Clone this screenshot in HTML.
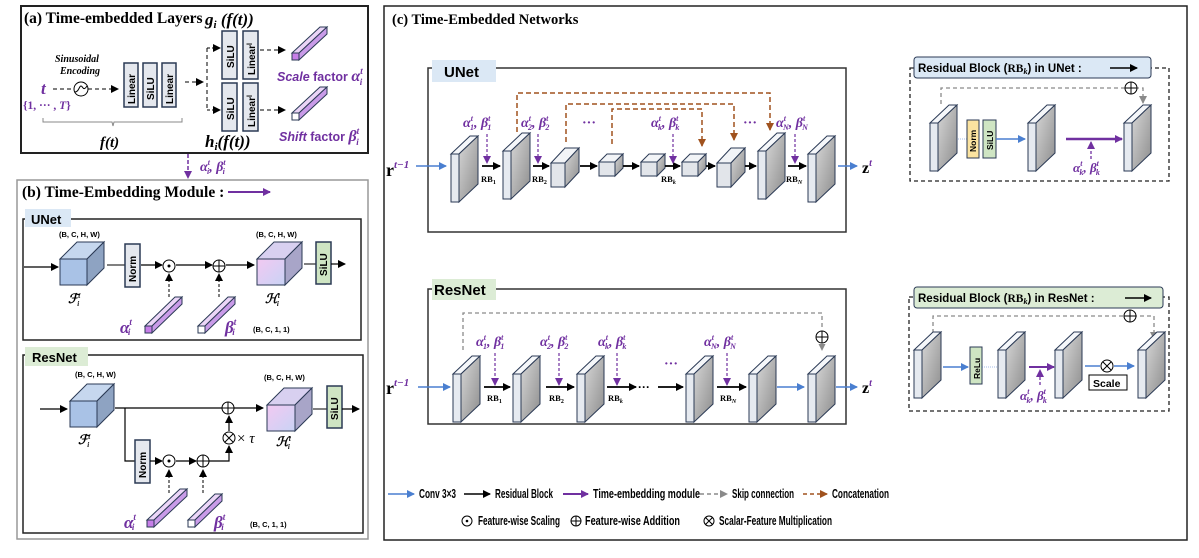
<!DOCTYPE html>
<html><head><meta charset="utf-8"><style>
html,body{margin:0;padding:0;background:#fff;}
svg{display:block;}
.s{font-family:"Liberation Sans",sans-serif;font-weight:bold;}
.r{font-family:"Liberation Serif",serif;font-weight:bold;}
.m{font-family:"Liberation Serif",serif;font-weight:bold;font-style:italic;fill:#7030a0;}
</style></head><body>
<svg width="1199" height="558" viewBox="0 0 1199 558" xmlns="http://www.w3.org/2000/svg">
<defs>
<marker id="ak" markerWidth="8" markerHeight="8" refX="7" refY="4" orient="auto" markerUnits="userSpaceOnUse"><path d="M0,0 L8,4 L0,8 z" fill="#000"/></marker>
<marker id="ab" markerWidth="8" markerHeight="8" refX="7" refY="4" orient="auto" markerUnits="userSpaceOnUse"><path d="M0,0 L8,4 L0,8 z" fill="#4a7fd0"/></marker>
<marker id="ap" markerWidth="8" markerHeight="8" refX="7" refY="4" orient="auto" markerUnits="userSpaceOnUse"><path d="M0,0 L8,4 L0,8 z" fill="#7030a0"/></marker>
<marker id="ag" markerWidth="8" markerHeight="8" refX="7" refY="4" orient="auto" markerUnits="userSpaceOnUse"><path d="M0,0 L8,4 L0,8 z" fill="#8a8a8a"/></marker>
<marker id="ao" markerWidth="8" markerHeight="8" refX="7" refY="4" orient="auto" markerUnits="userSpaceOnUse"><path d="M0,0 L8,4 L0,8 z" fill="#a0521e"/></marker>
<linearGradient id="gs" x1="0" y1="0" x2="1" y2="1"><stop offset="0" stop-color="#d8d8d8"/><stop offset="1" stop-color="#8c8c8c"/></linearGradient>
<linearGradient id="gh" x1="0" y1="0" x2="1" y2="1"><stop offset="0" stop-color="#f2c9f2"/><stop offset="1" stop-color="#c9d3f5"/></linearGradient>
<g id="tp"><rect x="0" y="0" width="8" height="48" fill="#e6eaf0" stroke="#2b3a55" stroke-width="1"/><polygon points="0,0 19,-18 27,-18 8,0" fill="#f5f7fa" stroke="#2b3a55" stroke-width="1"/><polygon points="8,0 27,-18 27,30 8,48" fill="url(#gs)" stroke="#2b3a55" stroke-width="1"/></g>
<g id="mc"><rect x="0" y="0" width="14" height="24" fill="#e2e5ea" stroke="#2b3a55"/><polygon points="0,0 14,-15 28,-15 14,0" fill="#f2f4f7" stroke="#2b3a55"/><polygon points="14,0 28,-15 28,9 14,24" fill="url(#gs)" stroke="#2b3a55"/></g>
<g id="sc"><rect x="0" y="0" width="16" height="14" fill="#e2e5ea" stroke="#2b3a55"/><polygon points="0,0 8,-8 24,-8 16,0" fill="#f2f4f7" stroke="#2b3a55"/><polygon points="16,0 24,-8 24,6 16,14" fill="url(#gs)" stroke="#2b3a55"/></g>
</defs>

<!-- ===== (a) ===== -->
<rect x="21" y="6" width="347" height="147" fill="none" stroke="#222" stroke-width="2"/>
<text x="24" y="23" class="r" font-size="15.5">(a) Time-embedded Layers</text>
<text x="205" y="25" class="m" style="fill:#000" font-size="17">g<tspan font-size="11" dy="3">i</tspan><tspan dy="-3"> (f(t))</tspan></text>
<text x="55" y="62" class="r" font-style="italic" font-size="10">Sinusoidal</text>
<text x="60" y="74" class="r" font-style="italic" font-size="10">Encoding</text>
<text x="41" y="94" class="m" font-size="17">t</text>
<text x="23" y="109" class="m" font-size="11.5" style="font-style:normal">{1, ··· , <tspan font-style="italic">T</tspan>}</text>
<line x1="53" y1="89" x2="73" y2="89" stroke="#000" stroke-dasharray="4,3"/>
<circle cx="81" cy="89" r="7" fill="#fff" stroke="#000"/>
<path d="M75,92 C79,92 79,86 81,86 C83,86 83,92 87,86" fill="none" stroke="#000"/>
<line x1="88" y1="89" x2="118" y2="89" stroke="#000" stroke-dasharray="4,3" marker-end="url(#ak)"/>
<rect x="124" y="63" width="14" height="44" fill="#e5e8ee" stroke="#2b3a55" stroke-width="1.5"/>
<rect x="143" y="63" width="14" height="44" fill="#e5e8ee" stroke="#2b3a55" stroke-width="1.5"/>
<rect x="162" y="63" width="14" height="44" fill="#e5e8ee" stroke="#2b3a55" stroke-width="1.5"/>
<text transform="translate(135,104) rotate(-90)" class="s" font-size="10">Linear</text>
<text transform="translate(154,100) rotate(-90)" class="s" font-size="10">SiLU</text>
<text transform="translate(173,104) rotate(-90)" class="s" font-size="10">Linear</text>
<path d="M43,118 L43,122 L112,122 L113,126 L114,122 L182,122 L182,118" fill="none" stroke="#888"/>
<text x="100" y="147" class="r" font-style="italic" font-size="15">f(t)</text>
<line x1="185" y1="82" x2="203" y2="82" stroke="#000" stroke-dasharray="4,3" marker-end="url(#ak)"/>
<line x1="207" y1="48" x2="207" y2="110" stroke="#000" stroke-dasharray="4,3"/>
<line x1="207" y1="48" x2="220" y2="48" stroke="#000" stroke-dasharray="3,2" marker-end="url(#ak)"/>
<line x1="207" y1="110" x2="220" y2="110" stroke="#000" stroke-dasharray="3,2" marker-end="url(#ak)"/>
<rect x="222" y="31" width="15" height="48" fill="#e5e8ee" stroke="#2b3a55" stroke-width="1.5"/>
<rect x="243" y="31" width="15" height="48" fill="#e5e8ee" stroke="#2b3a55" stroke-width="1.5"/>
<rect x="222" y="83" width="15" height="48" fill="#e5e8ee" stroke="#2b3a55" stroke-width="1.5"/>
<rect x="243" y="83" width="15" height="48" fill="#e5e8ee" stroke="#2b3a55" stroke-width="1.5"/>
<text transform="translate(234,68) rotate(-90)" class="s" font-size="10">SiLU</text>
<text transform="translate(255,75) rotate(-90)" class="s" font-size="10">Linear<tspan font-size="7" dy="-3">l</tspan></text>
<text transform="translate(234,120) rotate(-90)" class="s" font-size="10">SiLU</text>
<text transform="translate(255,127) rotate(-90)" class="s" font-size="10">Linear<tspan font-size="7" dy="-3">l</tspan></text>
<line x1="260" y1="50" x2="285" y2="50" stroke="#000" stroke-dasharray="4,3" marker-end="url(#ak)"/>
<line x1="260" y1="110" x2="285" y2="110" stroke="#000" stroke-dasharray="4,3" marker-end="url(#ak)"/>
<polygon points="292,53 320,27 327,27 299,53" fill="#ead4f7" stroke="#2b3a55"/>
<polygon points="299,53 327,27 327,34 299,60" fill="#c99be8" stroke="#2b3a55"/>
<rect x="292" y="53" width="7" height="7" fill="#c77ee8" stroke="#2b3a55"/>
<polygon points="292,113 320,87 327,87 299,113" fill="#ead4f7" stroke="#2b3a55"/>
<polygon points="299,113 327,87 327,94 299,120" fill="#c99be8" stroke="#2b3a55"/>
<rect x="292" y="113" width="7" height="7" fill="#fff" stroke="#2b3a55"/>
<text x="277" y="81" class="s" font-size="12.5" fill="#7030a0"><tspan font-style="italic">Scale</tspan> factor <tspan class="m" font-size="16">α</tspan><tspan class="m" font-size="9" dy="-7">t</tspan><tspan class="m" font-size="9" dx="-3" dy="11">i</tspan></text>
<text x="279" y="141" class="s" font-size="12.5" fill="#7030a0"><tspan font-style="italic">Shift</tspan> factor <tspan class="m" font-size="16">β</tspan><tspan class="m" font-size="9" dy="-7">t</tspan><tspan class="m" font-size="9" dx="-3" dy="11">i</tspan></text>
<text x="205" y="147" class="m" style="fill:#000" font-size="17">h<tspan font-size="11" dy="3">i</tspan><tspan dy="-3">(f(t))</tspan></text>
<line x1="188" y1="154" x2="188" y2="178" stroke="#7030a0" stroke-width="1.5" stroke-dasharray="4,2" marker-end="url(#ap)"/>
<text x="200" y="171" class="m" font-size="14">α<tspan font-size="8" dy="-6">t</tspan><tspan font-size="8" dx="-3" dy="9">i</tspan><tspan dy="-3">, β</tspan><tspan font-size="8" dy="-6">t</tspan><tspan font-size="8" dx="-3" dy="9">i</tspan></text>

<!-- ===== (b) ===== -->
<rect x="17" y="180" width="351" height="359" fill="none" stroke="#999" stroke-width="1.5"/>
<text x="22" y="197" class="r" font-size="15.5">(b) Time-Embedding Module :</text>
<line x1="228" y1="192" x2="270" y2="192" stroke="#7030a0" stroke-width="2" marker-end="url(#ap)"/>
<rect x="23" y="219" width="338" height="121" fill="none" stroke="#222" stroke-width="1.5"/>
<rect x="25" y="209" width="46" height="18" fill="#dbe8f5"/>
<text x="31" y="224" class="s" font-size="13">UNet</text>
<text x="59" y="237" class="s" font-size="7.5">(B, C, H, W)</text>
<text x="256" y="237" class="s" font-size="7.5">(B, C, H, W)</text>
<line x1="24" y1="267" x2="58" y2="267" stroke="#000" stroke-width="1.2" marker-end="url(#ak)"/>
<polygon points="60,259 77,242 104,242 87,259" fill="#c6d7ee" stroke="#2b3a55"/>
<polygon points="87,259 104,242 104,268 87,285" fill="#8ea3c2" stroke="#2b3a55"/>
<rect x="60" y="259" width="27" height="26" fill="#a9c2e6" stroke="#2b3a55"/>
<line x1="107" y1="265" x2="125" y2="265" stroke="#000"/>
<rect x="125" y="244" width="15" height="43" fill="#e5e8ee" stroke="#2b3a55" stroke-width="1.5"/>
<text transform="translate(136,282) rotate(-90)" class="s" font-size="10">Norm</text>
<line x1="141" y1="265" x2="162" y2="265" stroke="#000" stroke-width="1.2" marker-end="url(#ak)"/>
<circle cx="169" cy="266" r="6" fill="none" stroke="#000"/><circle cx="169" cy="266" r="1.5"/>
<line x1="176" y1="265" x2="212" y2="265" stroke="#000" stroke-width="1.2" marker-end="url(#ak)"/>
<circle cx="219" cy="266" r="6" fill="none" stroke="#000"/><path d="M213,266 h12 M219,260 v12" stroke="#000"/>
<line x1="226" y1="265" x2="254" y2="265" stroke="#000" stroke-width="1.2" marker-end="url(#ak)"/>
<line x1="169" y1="297" x2="169" y2="274" stroke="#000" stroke-dasharray="3,2" marker-end="url(#ak)"/>
<line x1="219" y1="297" x2="219" y2="274" stroke="#000" stroke-dasharray="3,2" marker-end="url(#ak)"/>
<polygon points="257,259 274,242 302,242 285,259" fill="#d8d0f0" stroke="#2b3a55"/>
<polygon points="285,259 302,242 302,268 285,285" fill="#a8a5c8" stroke="#2b3a55"/>
<rect x="257" y="259" width="28" height="26" fill="url(#gh)" stroke="#2b3a55"/>
<line x1="304" y1="264" x2="316" y2="264" stroke="#000"/>
<rect x="316" y="242" width="15" height="42" fill="#cfe5c3" stroke="#2b3a55" stroke-width="1.5"/>
<text transform="translate(327,276) rotate(-90)" class="s" font-size="10">SiLU</text>
<line x1="331" y1="264" x2="345" y2="264" stroke="#000" stroke-width="1.2" marker-end="url(#ak)"/>
<text x="68" y="303" class="m" style="fill:#000" font-size="13">ℱ<tspan font-size="7" dy="-5">t</tspan><tspan font-size="7" dx="-3" dy="8">i</tspan></text>
<text x="265" y="303" class="m" style="fill:#000" font-size="13">ℋ<tspan font-size="7" dy="-5">t</tspan><tspan font-size="7" dx="-3" dy="8">i</tspan></text>
<polygon points="145,326 175,297 182,297 152,326" fill="#ecd6f8" stroke="#2b3a55"/>
<polygon points="152,326 182,297 182,304 152,333" fill="#c99be8" stroke="#2b3a55"/>
<rect x="145" y="326" width="7" height="7" fill="#c77ee8" stroke="#2b3a55"/>
<polygon points="198,326 228,297 235,297 205,326" fill="#ecd6f8" stroke="#2b3a55"/>
<polygon points="205,326 235,297 235,304 205,333" fill="#c99be8" stroke="#2b3a55"/>
<rect x="198" y="326" width="7" height="7" fill="#fff" stroke="#2b3a55"/>
<text x="120" y="333" class="m" font-size="17">α<tspan font-size="9" dy="-8">t</tspan><tspan font-size="9" dx="-4" dy="10">i</tspan></text>
<text x="225" y="333" class="m" font-size="17">β<tspan font-size="9" dy="-8">t</tspan><tspan font-size="9" dx="-4" dy="10">i</tspan></text>
<text x="253" y="332" class="s" font-size="7.5">(B, C, 1, 1)</text>
<rect x="23" y="355" width="340" height="178" fill="none" stroke="#222" stroke-width="1.5"/>
<rect x="25" y="347" width="63" height="19" fill="#dcecd5"/>
<text x="32" y="362" class="s" font-size="13">ResNet</text>
<text x="75" y="377" class="s" font-size="7.5">(B, C, H, W)</text>
<text x="264" y="380" class="s" font-size="7.5">(B, C, H, W)</text>
<line x1="40" y1="409" x2="67" y2="409" stroke="#000" stroke-width="1.2" marker-end="url(#ak)"/>
<polygon points="70,401 87,384 114,384 97,401" fill="#c6d7ee" stroke="#2b3a55"/>
<polygon points="97,401 114,384 114,410 97,427" fill="#8ea3c2" stroke="#2b3a55"/>
<rect x="70" y="401" width="27" height="26" fill="#a9c2e6" stroke="#2b3a55"/>
<line x1="115" y1="408" x2="222" y2="408" stroke="#000" stroke-width="1.2"/>
<line x1="234" y1="408" x2="263" y2="408" stroke="#000" stroke-width="1.2" marker-end="url(#ak)"/>
<circle cx="228" cy="408" r="6" fill="none" stroke="#000"/><path d="M222,408 h12 M228,402 v12" stroke="#000"/>
<path d="M125,408 V461 H135" fill="none" stroke="#000" stroke-width="1.2"/>
<rect x="135" y="440" width="15" height="43" fill="#e5e8ee" stroke="#2b3a55" stroke-width="1.5"/>
<text transform="translate(146,478) rotate(-90)" class="s" font-size="10">Norm</text>
<line x1="150" y1="461" x2="162" y2="461" stroke="#000" stroke-width="1.2" marker-end="url(#ak)"/>
<circle cx="169" cy="461" r="6" fill="none" stroke="#000"/><circle cx="169" cy="461" r="1.5"/>
<line x1="176" y1="461" x2="196" y2="461" stroke="#000" stroke-width="1.2" marker-end="url(#ak)"/>
<circle cx="203" cy="461" r="6" fill="none" stroke="#000"/><path d="M197,461 h12 M203,455 v12" stroke="#000"/>
<path d="M209,461 H229 V446" fill="none" stroke="#000" stroke-width="1.2" marker-end="url(#ak)"/>
<circle cx="229" cy="438" r="6" fill="none" stroke="#000"/><path d="M225,434 l8,8 M233,434 l-8,8" stroke="#000"/>
<line x1="229" y1="431" x2="229" y2="416" stroke="#000" stroke-width="1.2" marker-end="url(#ak)"/>
<text x="237" y="443" font-family="Liberation Serif,serif" font-size="15">× <tspan font-style="italic">τ</tspan></text>
<line x1="169" y1="493" x2="169" y2="470" stroke="#000" stroke-dasharray="3,2" marker-end="url(#ak)"/>
<line x1="203" y1="493" x2="203" y2="470" stroke="#000" stroke-dasharray="3,2" marker-end="url(#ak)"/>
<polygon points="267,405 284,388 312,388 295,405" fill="#d8d0f0" stroke="#2b3a55"/>
<polygon points="295,405 312,388 312,414 295,431" fill="#a8a5c8" stroke="#2b3a55"/>
<rect x="267" y="405" width="28" height="26" fill="url(#gh)" stroke="#2b3a55"/>
<line x1="313" y1="409" x2="327" y2="409" stroke="#000"/>
<rect x="327" y="386" width="15" height="42" fill="#cfe5c3" stroke="#2b3a55" stroke-width="1.5"/>
<text transform="translate(338,420) rotate(-90)" class="s" font-size="10">SiLU</text>
<line x1="342" y1="409" x2="359" y2="409" stroke="#000" stroke-width="1.2" marker-end="url(#ak)"/>
<text x="78" y="444" class="m" style="fill:#000" font-size="13">ℱ<tspan font-size="7" dy="-5">t</tspan><tspan font-size="7" dx="-3" dy="8">i</tspan></text>
<text x="276" y="446" class="m" style="fill:#000" font-size="13">ℋ<tspan font-size="7" dy="-5">t</tspan><tspan font-size="7" dx="-3" dy="8">i</tspan></text>
<polygon points="147,520 180,489 187,489 154,520" fill="#ecd6f8" stroke="#2b3a55"/>
<polygon points="154,520 187,489 187,496 154,527" fill="#c99be8" stroke="#2b3a55"/>
<rect x="147" y="520" width="7" height="7" fill="#c77ee8" stroke="#2b3a55"/>
<polygon points="188,520 215,494 222,494 195,520" fill="#ecd6f8" stroke="#2b3a55"/>
<polygon points="195,520 222,494 222,501 195,527" fill="#c99be8" stroke="#2b3a55"/>
<rect x="188" y="520" width="7" height="7" fill="#fff" stroke="#2b3a55"/>
<text x="124" y="528" class="m" font-size="17">α<tspan font-size="9" dy="-8">t</tspan><tspan font-size="9" dx="-4" dy="10">i</tspan></text>
<text x="214" y="528" class="m" font-size="17">β<tspan font-size="9" dy="-8">t</tspan><tspan font-size="9" dx="-4" dy="10">i</tspan></text>
<text x="250" y="527" class="s" font-size="7.5">(B, C, 1, 1)</text>

<!-- ===== (c) ===== -->
<rect x="384" y="6" width="803" height="534" fill="none" stroke="#222" stroke-width="1.5"/>
<text x="392" y="24" class="r" font-size="14.5">(c) Time-Embedded Networks</text>
<rect x="428" y="68" width="418" height="164" fill="none" stroke="#333" stroke-width="1.5"/>
<rect x="432" y="60" width="64" height="22" fill="#dbe8f5"/>
<text x="444" y="77" class="s" font-size="15">UNet</text>
<text x="386" y="176" class="r" font-size="18">r<tspan class="m" font-size="11" dy="-8">t−1</tspan></text>
<line x1="416" y1="166" x2="446" y2="166" stroke="#4a7fd0" stroke-width="1.5" marker-end="url(#ab)"/>
<path d="M517,132 V93 H770 V130" fill="none" stroke="#a0521e" stroke-width="1.5" stroke-dasharray="5,3" marker-end="url(#ao)"/>
<path d="M566,142 V104 H734 V140" fill="none" stroke="#a0521e" stroke-width="1.5" stroke-dasharray="5,3" marker-end="url(#ao)"/>
<path d="M612,144 V109 H702 V146" fill="none" stroke="#a0521e" stroke-width="1.5" stroke-dasharray="5,3" marker-end="url(#ao)"/>
<use href="#tp" x="451" y="154"/>
<use href="#tp" x="503" y="151"/>
<use href="#mc" x="551" y="163"/>
<use href="#sc" x="599" y="162"/>
<use href="#sc" x="641" y="162"/>
<use href="#sc" x="682" y="162"/>
<use href="#mc" x="717" y="163"/>
<use href="#tp" x="758" y="151"/>
<use href="#tp" x="808" y="154"/>
<g stroke="#000" stroke-width="1.8">
<line x1="482" y1="166" x2="500" y2="166" marker-end="url(#ak)"/>
<line x1="533" y1="166" x2="549" y2="166" marker-end="url(#ak)"/>
<line x1="580" y1="166" x2="597" y2="166" marker-end="url(#ak)"/>
<line x1="623" y1="166" x2="639" y2="166" marker-end="url(#ak)"/>
<line x1="665" y1="166" x2="680" y2="166" marker-end="url(#ak)"/>
<line x1="706" y1="166" x2="715" y2="166" marker-end="url(#ak)"/>
<line x1="745" y1="166" x2="756" y2="166" marker-end="url(#ak)"/>
<line x1="788" y1="166" x2="806" y2="166" marker-end="url(#ak)"/>
</g>
<line x1="838" y1="166" x2="857" y2="166" stroke="#4a7fd0" stroke-width="1.5" marker-end="url(#ab)"/>
<text x="862" y="173" class="r" font-size="16">z<tspan class="m" font-size="10" dy="-7">t</tspan></text>
<g class="m" font-size="14">
<text x="463" y="127">α<tspan font-size="8" dy="-6">t</tspan><tspan font-size="8" dx="-3" dy="9">1</tspan><tspan dy="-3">, β</tspan><tspan font-size="8" dy="-6">t</tspan><tspan font-size="8" dx="-3" dy="9">1</tspan></text>
<text x="521" y="127">α<tspan font-size="8" dy="-6">t</tspan><tspan font-size="8" dx="-3" dy="9">2</tspan><tspan dy="-3">, β</tspan><tspan font-size="8" dy="-6">t</tspan><tspan font-size="8" dx="-3" dy="9">2</tspan></text>
<text x="651" y="127">α<tspan font-size="8" dy="-6">t</tspan><tspan font-size="8" dx="-3" dy="9">k</tspan><tspan dy="-3">, β</tspan><tspan font-size="8" dy="-6">t</tspan><tspan font-size="8" dx="-3" dy="9">k</tspan></text>
<text x="776" y="127">α<tspan font-size="8" dy="-6">t</tspan><tspan font-size="8" dx="-3" dy="9">N</tspan><tspan dy="-3">, β</tspan><tspan font-size="8" dy="-6">t</tspan><tspan font-size="8" dx="-3" dy="9">N</tspan></text>
<text x="582" y="127" font-style="normal">···</text>
<text x="743" y="127" font-style="normal">···</text>
</g>
<g stroke="#7030a0" stroke-width="1.2" stroke-dasharray="3,2">
<line x1="487" y1="134" x2="487" y2="163" marker-end="url(#ap)"/>
<line x1="538" y1="134" x2="538" y2="163" marker-end="url(#ap)"/>
<line x1="673" y1="134" x2="673" y2="163" marker-end="url(#ap)"/>
<line x1="795" y1="134" x2="795" y2="163" marker-end="url(#ap)"/>
</g>
<g class="r" font-size="8.5">
<text x="481" y="182">RB<tspan font-size="6" dy="2">1</tspan></text>
<text x="532" y="182">RB<tspan font-size="6" dy="2">2</tspan></text>
<text x="661" y="182">RB<tspan font-size="6" dy="2" font-style="italic">k</tspan></text>
<text x="786" y="182">RB<tspan font-size="6" dy="2" font-style="italic">N</tspan></text>
</g>
<rect x="428" y="289" width="418" height="135" fill="none" stroke="#333" stroke-width="1.5"/>
<rect x="432" y="279" width="64" height="21" fill="#dcecd5"/>
<text x="434" y="295" class="s" font-size="15">ResNet</text>
<text x="386" y="394" class="r" font-size="18">r<tspan class="m" font-size="11" dy="-8">t−1</tspan></text>
<line x1="418" y1="387" x2="450" y2="387" stroke="#4a7fd0" stroke-width="1.5" marker-end="url(#ab)"/>
<path d="M463,350 V313 H822 V350" fill="none" stroke="#8a8a8a" stroke-width="1.3" stroke-dasharray="4,3" marker-end="url(#ag)"/>
<rect x="814" y="330" width="16" height="14" fill="#fff"/>
<circle cx="822" cy="337" r="6" fill="#fff" stroke="#000"/><path d="M816,337 h12 M822,331 v12" stroke="#000"/>
<use href="#tp" x="453" y="374"/>
<use href="#tp" x="513" y="374"/>
<use href="#tp" x="577" y="374"/>
<use href="#tp" x="686" y="374"/>
<use href="#tp" x="749" y="374"/>
<use href="#tp" x="808" y="374"/>
<g stroke="#000" stroke-width="1.8">
<line x1="484" y1="387" x2="510" y2="387" marker-end="url(#ak)"/>
<line x1="546" y1="387" x2="574" y2="387" marker-end="url(#ak)"/>
<line x1="607" y1="387" x2="636" y2="387" marker-end="url(#ak)"/>
<line x1="658" y1="387" x2="683" y2="387" marker-end="url(#ak)"/>
<line x1="717" y1="387" x2="746" y2="387" marker-end="url(#ak)"/>
</g>
<text x="638" y="391" class="s" font-size="12">···</text>
<line x1="777" y1="387" x2="804" y2="387" stroke="#4a7fd0" stroke-width="1.5" marker-end="url(#ab)"/>
<line x1="836" y1="387" x2="857" y2="387" stroke="#4a7fd0" stroke-width="1.5" marker-end="url(#ab)"/>
<text x="862" y="393" class="r" font-size="16">z<tspan class="m" font-size="10" dy="-7">t</tspan></text>
<g class="m" font-size="14">
<text x="476" y="346">α<tspan font-size="8" dy="-6">t</tspan><tspan font-size="8" dx="-3" dy="9">1</tspan><tspan dy="-3">, β</tspan><tspan font-size="8" dy="-6">t</tspan><tspan font-size="8" dx="-3" dy="9">1</tspan></text>
<text x="540" y="346">α<tspan font-size="8" dy="-6">t</tspan><tspan font-size="8" dx="-3" dy="9">2</tspan><tspan dy="-3">, β</tspan><tspan font-size="8" dy="-6">t</tspan><tspan font-size="8" dx="-3" dy="9">2</tspan></text>
<text x="598" y="346">α<tspan font-size="8" dy="-6">t</tspan><tspan font-size="8" dx="-3" dy="9">k</tspan><tspan dy="-3">, β</tspan><tspan font-size="8" dy="-6">t</tspan><tspan font-size="8" dx="-3" dy="9">k</tspan></text>
<text x="704" y="346">α<tspan font-size="8" dy="-6">t</tspan><tspan font-size="8" dx="-3" dy="9">N</tspan><tspan dy="-3">, β</tspan><tspan font-size="8" dy="-6">t</tspan><tspan font-size="8" dx="-3" dy="9">N</tspan></text>
<text x="664" y="368" font-style="normal">···</text>
</g>
<g stroke="#7030a0" stroke-width="1.2" stroke-dasharray="3,2">
<line x1="495" y1="353" x2="495" y2="385" marker-end="url(#ap)"/>
<line x1="559" y1="353" x2="559" y2="385" marker-end="url(#ap)"/>
<line x1="617" y1="353" x2="617" y2="385" marker-end="url(#ap)"/>
<line x1="727" y1="353" x2="727" y2="385" marker-end="url(#ap)"/>
</g>
<g class="r" font-size="8.5">
<text x="487" y="401">RB<tspan font-size="6" dy="2">1</tspan></text>
<text x="549" y="401">RB<tspan font-size="6" dy="2">2</tspan></text>
<text x="608" y="401">RB<tspan font-size="6" dy="2" font-style="italic">k</tspan></text>
<text x="720" y="401">RB<tspan font-size="6" dy="2" font-style="italic">N</tspan></text>
</g>
<!-- RB in UNet -->
<rect x="910" y="68" width="259" height="113" fill="none" stroke="#222" stroke-width="1.3" stroke-dasharray="4,3"/>
<rect x="914" y="57" width="237" height="21" rx="3" fill="#dbe8f5" stroke="#2b3a55"/>
<text x="918" y="72" class="s" font-size="11.5">Residual Block (<tspan class="r">RB<tspan font-size="8" dy="2" font-style="italic">k</tspan></tspan><tspan dy="-2">) in UNet :</tspan></text>
<line x1="1110" y1="68" x2="1137" y2="68" stroke="#000" stroke-width="1.5" marker-end="url(#ak)"/>
<path d="M941,104 V88 H1143 V103" fill="none" stroke="#8a8a8a" stroke-width="1.3" stroke-dasharray="4,3" marker-end="url(#ag)"/>
<circle cx="1131" cy="88" r="6" fill="#fff" stroke="#000"/><path d="M1125,88 h12 M1131,82 v12" stroke="#000"/>
<use href="#tp" x="930" y="123"/>
<use href="#tp" x="1028" y="123"/>
<use href="#tp" x="1124" y="123"/>
<line x1="958" y1="139" x2="967" y2="139" stroke="#4a7fd0" stroke-width="0.6" stroke-dasharray="1,1"/>
<rect x="967" y="120" width="12" height="38" fill="#fbe3a0" stroke="#2b3a55"/>
<rect x="983" y="120" width="13" height="38" fill="#cfe5c3" stroke="#2b3a55"/>
<text transform="translate(976,152) rotate(-90)" class="s" font-size="8.5" font-weight="normal">Norm</text>
<text transform="translate(993,150) rotate(-90)" class="s" font-size="8.5" font-weight="normal">SiLU</text>
<line x1="996" y1="139" x2="1025" y2="139" stroke="#4a7fd0" stroke-width="1.5" marker-end="url(#ab)"/>
<line x1="1066" y1="139" x2="1122" y2="139" stroke="#7030a0" stroke-width="2.5" marker-end="url(#ap)"/>
<line x1="1091" y1="159" x2="1091" y2="142" stroke="#7030a0" stroke-width="1.3" stroke-dasharray="3,2" marker-end="url(#ap)"/>
<text x="1073" y="172" class="m" font-size="13">α<tspan font-size="8" dy="-6">t</tspan><tspan font-size="8" dx="-3" dy="9">k</tspan><tspan dy="-3">, β</tspan><tspan font-size="8" dy="-6">t</tspan><tspan font-size="8" dx="-3" dy="9">k</tspan></text>
<!-- RB in ResNet -->
<rect x="909" y="297" width="260" height="114" fill="none" stroke="#222" stroke-width="1.3" stroke-dasharray="4,3"/>
<rect x="914" y="287" width="249" height="21" rx="3" fill="#dcecd5" stroke="#2b3a55"/>
<text x="918" y="302" class="s" font-size="11.5">Residual Block (<tspan class="r">RB<tspan font-size="8" dy="2" font-style="italic">k</tspan></tspan><tspan dy="-2">) in ResNet :</tspan></text>
<line x1="1125" y1="298" x2="1151" y2="298" stroke="#000" stroke-width="1.5" marker-end="url(#ak)"/>
<path d="M933,347 V316 H1154 V339" fill="none" stroke="#8a8a8a" stroke-width="1.3" stroke-dasharray="4,3" marker-end="url(#ag)"/>
<circle cx="1130" cy="316" r="6" fill="#fff" stroke="#000"/><path d="M1124,316 h12 M1130,310 v12" stroke="#000"/>
<use href="#tp" x="914" y="350"/>
<use href="#tp" x="998" y="350"/>
<use href="#tp" x="1055" y="350"/>
<use href="#tp" x="1138" y="350"/>
<line x1="943" y1="367" x2="968" y2="367" stroke="#4a7fd0" stroke-width="1.5" marker-end="url(#ab)"/>
<rect x="970" y="347" width="12" height="37" fill="#cfe5c3" stroke="#2b3a55"/>
<text transform="translate(980,379) rotate(-90)" class="s" font-size="8.5" font-weight="normal">ReLu</text>
<line x1="982" y1="367" x2="997" y2="367" stroke="#4a7fd0" stroke-width="0.6" stroke-dasharray="1,1"/>
<line x1="1029" y1="367" x2="1054" y2="367" stroke="#7030a0" stroke-width="2" marker-end="url(#ap)"/>
<line x1="1040" y1="385" x2="1040" y2="370" stroke="#7030a0" stroke-width="1.3" stroke-dasharray="3,2" marker-end="url(#ap)"/>
<text x="1020" y="400" class="m" font-size="13">α<tspan font-size="8" dy="-6">t</tspan><tspan font-size="8" dx="-3" dy="9">k</tspan><tspan dy="-3">, β</tspan><tspan font-size="8" dy="-6">t</tspan><tspan font-size="8" dx="-3" dy="9">k</tspan></text>
<line x1="1085" y1="366" x2="1100" y2="366" stroke="#4a7fd0" stroke-width="1.5"/>
<circle cx="1107" cy="366" r="6" fill="none" stroke="#000"/><path d="M1103,362 l8,8 M1111,362 l-8,8" stroke="#000"/>
<line x1="1114" y1="366" x2="1134" y2="366" stroke="#4a7fd0" stroke-width="1.5" marker-end="url(#ab)"/>
<rect x="1089" y="375" width="38" height="15" fill="#fff" stroke="#000"/>
<text x="1093" y="387" class="s" font-size="10.5">Scale</text>
<!-- legend -->
<g class="s" font-size="13">
<line x1="388" y1="494" x2="414" y2="494" stroke="#4a7fd0" stroke-width="1.5" marker-end="url(#ab)"/>
<text x="419" y="498" textLength="37" lengthAdjust="spacingAndGlyphs">Conv 3×3</text>
<line x1="464" y1="494" x2="490" y2="494" stroke="#000" stroke-width="1.5" marker-end="url(#ak)"/>
<text x="495" y="498" textLength="58" lengthAdjust="spacingAndGlyphs">Residual Block</text>
<line x1="563" y1="494" x2="588" y2="494" stroke="#7030a0" stroke-width="2" marker-end="url(#ap)"/>
<text x="585" y="498" textLength="107" lengthAdjust="spacingAndGlyphs" dx="8">Time-embedding module</text>
<line x1="700" y1="494" x2="727" y2="494" stroke="#8a8a8a" stroke-width="1.5" stroke-dasharray="4,3" marker-end="url(#ag)"/>
<text x="732" y="498" textLength="62" lengthAdjust="spacingAndGlyphs">Skip connection</text>
<line x1="803" y1="494" x2="827" y2="494" stroke="#a0521e" stroke-width="1.5" stroke-dasharray="4,3" marker-end="url(#ao)"/>
<text x="832" y="498" textLength="57" lengthAdjust="spacingAndGlyphs">Concatenation</text>
<circle cx="467" cy="521" r="5" fill="none" stroke="#000"/><circle cx="467" cy="521" r="1.3"/>
<text x="478" y="525" textLength="82" lengthAdjust="spacingAndGlyphs">Feature-wise Scaling</text>
<circle cx="576" cy="521" r="5" fill="none" stroke="#000"/><path d="M571,521 h10 M576,516 v10" stroke="#000"/>
<text x="585" y="525" textLength="95" lengthAdjust="spacingAndGlyphs">Feature-wise Addition</text>
<circle cx="709" cy="521" r="5" fill="none" stroke="#000"/><path d="M705.5,517.5 l7,7 M712.5,517.5 l-7,7" stroke="#000"/>
<text x="719" y="525" textLength="113" lengthAdjust="spacingAndGlyphs">Scalar-Feature Multiplication</text>
</g>
</svg>
</body></html>
